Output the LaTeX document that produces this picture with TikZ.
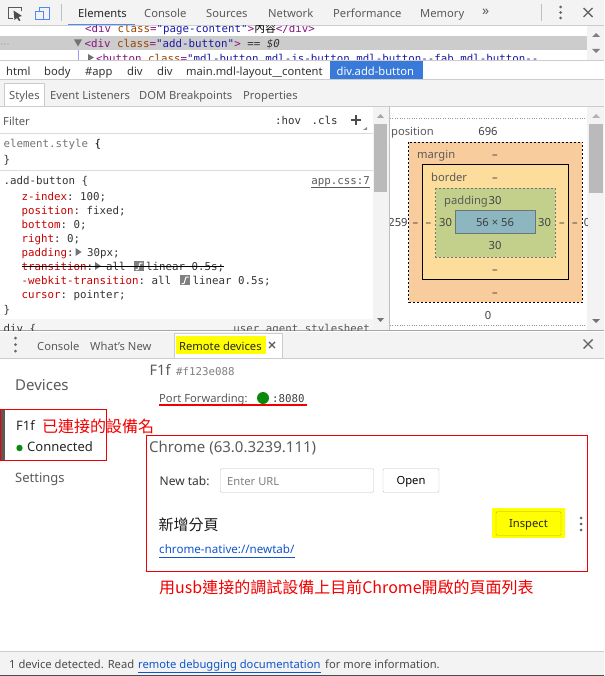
\documentclass[tikz,border=0pt]{standalone}
\usepackage{fontspec}
\setmainfont{Noto Sans}
\setmonofont{DejaVu Sans Mono}
\newfontfamily\cjk{Noto Sans CJK TC}
\usetikzlibrary{positioning,calc}
\definecolor{barbg}{HTML}{F3F3F3}
\definecolor{linegray}{HTML}{CCCCCC}
\definecolor{tabtext}{HTML}{5A5A5A}
\definecolor{tagcol}{HTML}{881280}
\definecolor{attrcol}{HTML}{994500}
\definecolor{valcol}{HTML}{1A1AA6}
\definecolor{propcol}{HTML}{C80000}
\definecolor{linkcol}{HTML}{1155CC}
\definecolor{okgreen}{HTML}{0A8A0A}
\definecolor{notered}{HTML}{F00000}
\definecolor{hiyellow}{HTML}{FFFF00}
\definecolor{crumbblue}{HTML}{3879D9}
\definecolor{tabblue}{HTML}{4C8BF5}
\definecolor{marginfill}{HTML}{F9CC9D}
\definecolor{borderfill}{HTML}{FDDD9B}
\definecolor{paddingfill}{HTML}{C3D08B}
\definecolor{contentfill}{HTML}{8CB6C0}
\tikzset{
  uitext/.style={anchor=west, inner sep=0pt, text height=12pt, text depth=3pt, font=\fontsize{11.2}{13}\selectfont, text=#1},
  uitext/.default=tabtext,
  midtext/.style={inner sep=0pt, text height=12pt, text depth=3pt, font=\fontsize{11.2}{13}\selectfont, text=#1},
  midtext/.default=black!75,
  codetext/.style={anchor=west, inner sep=0pt, text height=12pt, text depth=3pt, font=\fontsize{10.8}{13}\ttfamily, text=#1},
  codetext/.default=black!80,
  redbox/.style={draw=notered, line width=1pt},
  redtext/.style={anchor=west, inner sep=0pt, text=notered, font=\cjk\fontsize{16}{18}\selectfont},
  sepline/.style={draw=linegray, line width=1pt},
  tri/.style={fill=black!55, draw=none},
  menudot/.style={fill=black!60, draw=none},
  plainbtn/.style={draw=black!25, fill=white, rounded corners=1pt, inner sep=0pt, text height=11pt, text depth=3pt}
}
\begin{document}
\begin{tikzpicture}[x=1pt, y=-1pt, >=stealth]
  \useasboundingbox (0,0) rectangle (604,676);

  % Top toolbar
  \fill[barbg] (0,0) rectangle (604,25);
  \draw[sepline] (0,25.5) -- (604,25.5);
  \draw[black!65, line width=1pt] (13,18.5) -- (8.5,18.5) -- (8.5,7.5) -- (21,7.5) -- (21,11);
  \fill[black!70] (13.5,10.5) -- (22,16) -- (18.5,17) -- (20.5,20.5) -- (19,21) -- (17,18) -- (14.5,20) -- cycle;
  \draw[tabblue, line width=1pt] (35.5,12) rectangle (43.5,19.5);
  \draw[tabblue, line width=1pt] (39,12) -- (39,7.5) -- (49.5,7.5) -- (49.5,19.5) -- (43.5,19.5);
  \draw[black!25] (61.5,4) -- (61.5,21);
  \draw[black!25] (541,4) -- (541,21);
  \fill[tabblue] (68,24) rectangle (135,25.5);
  \node[uitext=black!85] (elementsTab) at (78,13) {Elements};
  \foreach \x/\nm/\lab in {144/consoleTab/Console, 206/sourcesTab/Sources, 268/networkTab/Network, 333/perfTab/Performance, 420/memoryTab/Memory}
    \node[uitext] (\nm) at (\x,13) {\lab};
  \node[uitext, font=\fontsize{14}{16}\selectfont] (moreTabs) at (482,11.5) {»};
  \foreach \y in {7,12.5,18} \fill[menudot] (560.5,\y) circle (1.5);
  \draw[black!60, line width=1.4pt] (583.5,8) -- (592.5,17) (592.5,8) -- (583.5,17);

  % DOM tree rows
  \fill[black!20] (0,36) rectangle (587,50);
  \fill[black!45] (2,44) circle (.6) (5,44) circle (.6) (8,44) circle (.6);
  \fill[tri] (74,39.5) -- (82,39.5) -- (78,46.5) -- cycle;
  \draw[blue!40] (78.5,50) -- (78.5,61);
  \fill[tri] (88,54) -- (94,57.5) -- (88,61) -- cycle;
  \begin{scope}
    \clip (0,26) rectangle (587,61);
    \node[codetext] (pageRow) at (85,28.5) {\textcolor{tagcol}{<div} \textcolor{attrcol}{class}\textcolor{tagcol}{=}\textcolor{valcol}{"page-content"}\textcolor{tagcol}{>}\textcolor{black}{\cjk 內容}\textcolor{tagcol}{</div>}};
    \node[codetext] (addRow) at (84.5,43.5) {\textcolor{tagcol}{<div} \textcolor{attrcol}{class}\textcolor{tagcol}{=}\textcolor{valcol}{"add-button"}\textcolor{tagcol}{>} == \textit{\$0}};
    \node[codetext] (buttonRow) at (96,58) {\textcolor{tagcol}{<button} \textcolor{attrcol}{class}\textcolor{tagcol}{=}\textcolor{valcol}{"mdl-button mdl-js-button mdl-button--fab mdl-button--}};
  \end{scope}
  \fill[barbg] (587,26) rectangle (604,61);
  \fill[black!50] (592,37) -- (600,37) -- (596,33) -- cycle;
  \fill[black!50] (592,49) -- (600,49) -- (596,53) -- cycle;

  % Breadcrumbs
  \draw[sepline] (0,61) -- (604,61);
  \fill[crumbblue] (330,61) rectangle (423,79);
  \foreach \x/\nm/\lab in {6/crumbA/html, 44/crumbB/body, 85/crumbC/\#app, 127/crumbD/div, 157/crumbE/div, 186/crumbF/main.mdl-layout\_\_content}
    \node[uitext=black!80] (\nm) at (\x,71) {\lab};
  \node[uitext=white, font=\fontsize{11.2}{13}\bfseries] (crumbG) at (336.5,71) {div.add-button};

  % Sidebar tabs
  \fill[barbg] (0,80) rectangle (604,106);
  \draw[sepline] (0,79.5) -- (604,79.5);
  \draw[linegray, fill=white] (4,106) -- (4,83) -- (44.5,83) -- (44.5,106);
  \node[uitext] (stylesTab) at (9,95) {Styles};
  \foreach \x/\nm/\lab in {50/listenersTab/Event Listeners, 139/breakTab/DOM Breakpoints, 243/propsTab/Properties}
    \node[uitext] (\nm) at (\x,95) {\lab};
  \draw[sepline] (0,106.5) -- (604,106.5);

  % Styles pane
  \draw[black!35, line width=1.2pt] (0,330.5) -- (604,330.5);
  \node[uitext] (filterBox) at (3,121) {Filter};
  \node[codetext] (hovBtn) at (275,120) {:hov};
  \node[codetext] (clsBtn) at (311.5,120) {.cls};
  \draw[black!70, line width=1.2pt] (351,120) -- (361,120) (356,115) -- (356,125);
  \fill[black!45] (367,127) -- (367,130) -- (363,130) -- cycle;
  \draw[linegray!70] (0,133.5) -- (373,133.5);
  \node[codetext=black!55] (elemRule) at (3.5,143) {element.style \textcolor{black}{\{}};
  \node[codetext] (elemEnd) at (3.5,159.5) {\}};
  \draw[linegray!70] (0,170.5) -- (373,170.5);
  \node[codetext] (addRule) at (3.5,180) {.add-button \{};
  \node[codetext=black!65, anchor=east] (cssLink) at (370,180) {app.css:7};
  \draw[black!65, yshift=1pt] (cssLink.south west) -- (cssLink.south east);
  \foreach \y/\nm/\prop/\val in {196/declA/z-index/100;, 210/declB/position/fixed;, 224/declC/bottom/0;, 238/declD/right/0;, 294/declE/cursor/pointer;}
    \node[codetext] (\nm) at (21.5,\y) {\textcolor{propcol}{\prop}: \val};
  \node[codetext] (declF) at (21.5,252) {\textcolor{propcol}{padding}:};
  \fill[tri] (75.5,248) -- (81.5,252) -- (75.5,256) -- cycle;
  \node[codetext] (declFv) at (87,252) {30px;};
  % struck out declaration
  \node[codetext] (declG) at (21.5,266) {\textcolor{propcol}{transition}:};
  \fill[tri] (95,262) -- (101,266) -- (95,270) -- cycle;
  \node[codetext] (declGa) at (106,266) {all};
  \fill[black!50] (134,261) rectangle (144,271);
  \draw[white, line width=1pt] (135.5,269.5) -- (138,269.5) -- (140,263) -- (142.5,263);
  \node[codetext] (declGb) at (146,266) {linear 0.5s;};
  \draw[black, line width=.8pt] (declG.west) -- (declGb.east);
  \node[codetext] (declH) at (21.5,280) {\textcolor{propcol}{-webkit-transition}: all};
  \fill[black!50] (180,275) rectangle (190,285);
  \draw[white, line width=1pt] (181.5,283.5) -- (184,283.5) -- (186,277) -- (188.5,277);
  \node[codetext] (declHb) at (192.5,280) {linear 0.5s;};
  \node[codetext] (addEnd) at (3.5,308.5) {\}};
  \fill[black!4] (0,318.5) rectangle (373,330);
  \begin{scope}
    \clip (0,318.5) rectangle (373,330);
    \node[codetext] (divRule) at (3.5,328) {div \{};
    \node[codetext=black!65, anchor=east] (uaLabel) at (370,328) {user agent stylesheet};
  \end{scope}
  % left scrollbar
  \fill[barbg] (373,107) rectangle (388.5,330);
  \fill[black!27] (374,124) rectangle (387,192);
  \fill[black!35] (377,118) -- (384,118) -- (380.5,114) -- cycle;
  \fill[black!55] (377,318) -- (384,318) -- (380.5,322) -- cycle;
  \draw[black!25] (389,107) -- (389,330);

  % Box model
  \draw[black!40, dotted] (390,118) -- (587,118);
  \draw[black!40, dotted] (390,325) -- (587,325);
  \fill[barbg] (587,107) rectangle (604,330);
  \fill[black!27] (589,124) rectangle (603,193);
  \fill[black!30] (592,118) -- (600,118) -- (596,114) -- cycle;
  \fill[black!55] (592,319) -- (600,319) -- (596,323) -- cycle;
  \draw[black, dash pattern=on 2pt off 2pt, fill=marginfill] (408.5,142) rectangle (582,302);
  \draw[black, fill=borderfill] (422,164) rectangle (568,279);
  \draw[black!55, dash pattern=on 2pt off 2pt, fill=paddingfill] (435.5,188) rectangle (555,257);
  \draw[black!55, fill=contentfill] (455.5,210.5) rectangle (535,233.5);
  \node[uitext] (posLabel) at (391,131) {position};
  \begin{scope}
    \clip (390,200) rectangle (587,240);
    \node[midtext] (boxLeft) at (398,222) {259};
    \node[midtext] (boxRight) at (587,222) {0};
  \end{scope}
  \node[midtext] (boxTop) at (488,131) {696};
  \node[midtext] (boxBot) at (488,315) {0};
  \node[uitext] (marginLab) at (417,154) {margin};
  \node[uitext] (borderLab) at (431,177) {border};
  \node[uitext] (paddingLab) at (444,200) {padding};
  \node[midtext] (padTop) at (495,200) {30};
  \node[midtext] (padBot) at (495,245) {30};
  \node[midtext] (padLeft) at (445.5,222) {30};
  \node[midtext] (padRight) at (544.5,222) {30};
  \node[midtext] (contentLab) at (495,222) {56 × 56};
  \foreach \x/\y/\nm in {495/154/dashA, 495/177/dashB, 495/269/dashC, 495/292/dashD, 415.5/222/dashE, 428.5/222/dashF, 562/222/dashG, 575/222/dashH}
    \node[midtext] (\nm) at (\x,\y) {–};

  % Drawer tabs
  \fill[barbg] (0,332) rectangle (604,358);
  \draw[sepline] (0,358.5) -- (604,358.5);
  \foreach \y in {338,344.5,351} \fill[menudot] (15.5,\y) circle (1.5);
  \draw[linegray, fill=white] (174,358) -- (174,333.5) -- (282.5,333.5) -- (282.5,358);
  \fill[hiyellow] (176,336) rectangle (266,354);
  \node[uitext] (drawerA) at (37,346) {Console};
  \node[uitext] (drawerB) at (90,346) {What's New};
  \node[uitext=black!85] (drawerC) at (179,346) {Remote devices};
  \draw[black!65, line width=1.1pt] (269,342) -- (275,348) (275,342) -- (269,348);
  \draw[black!60, line width=1.4pt] (583.5,339.5) -- (592.5,348.5) (592.5,339.5) -- (583.5,348.5);

  % Device header
  \node[uitext, font=\fontsize{14.5}{16}\selectfont] (devName) at (149.5,371) {F1f};
  \node[codetext=black!50] (devId) at (176,371) {\#f123e088};
  \node[uitext, font=\fontsize{15}{17}\selectfont] (devicesHead) at (15,385.5) {Devices};
  \node[uitext] (portLabel) at (159,398) {Port Forwarding:};
  \fill[okgreen] (263,398) circle (6);
  \node[codetext=black!75] (portNum) at (272,398) {:8080};
  \draw[notered, line width=1.2pt] (159,405) -- (307,405);

  % Sidebar
  \fill[black!65] (1,409) rectangle (5,461);
  \draw[redbox] (.5,409) rectangle (106,460);
  \node[uitext=black!85, font=\fontsize{13}{15}\selectfont] (sideDev) at (16,426) {F1f};
  \node[redtext] (sideNote) at (42,426) {已連接的設備名};
  \fill[okgreen] (19.5,448) circle (3.2);
  \node[uitext=black!85, font=\fontsize{13}{15}\selectfont] (sideConn) at (27,447) {Connected};
  \node[uitext, font=\fontsize{13}{15}\selectfont] (sideSet) at (15,478) {Settings};

  % Chrome card
  \draw[redbox] (146.5,435) rectangle (587,571.5);
  \node[uitext, font=\fontsize{15}{17}\selectfont] (chromeHead) at (149,448) {Chrome (63.0.3239.111)};
  \node[uitext=black!80, font=\fontsize{12}{14}\selectfont] (newTabLab) at (159.5,481) {New tab:};
  \node[plainbtn, minimum width=153pt, minimum height=23.5pt] (urlBox) at (297,480.5) {};
  \node[uitext=black!50] (urlHint) at (227,481) {Enter URL};
  \node[plainbtn, minimum width=56pt, minimum height=23.5pt, font=\fontsize{11.2}{13}\selectfont] (openBtn) at (411,480.5) {Open};
  \node[uitext=black!90, font=\cjk\fontsize{15}{17}\selectfont] (pageTitle) at (158.5,526) {新增分頁};
  \fill[hiyellow] (492,507.5) rectangle (564.5,538);
  \node[plainbtn, draw=black!30!hiyellow, fill=hiyellow, minimum width=65pt, minimum height=23.5pt, font=\fontsize{11.2}{13}\selectfont, text=black!85] (inspectBtn) at (528.5,523.5) {Inspect};
  \foreach \y in {518,524,530} \fill[menudot] (581,\y) circle (1.5);
  \node[uitext=linkcol, font=\fontsize{11.6}{13}\selectfont] (pageLink) at (159,549) {chrome-native://newtab/};
  \draw[linkcol, yshift=1pt] (pageLink.south west) -- (pageLink.south east);
  \node[redtext] (cardNote) at (159,587) {用usb連接的調試設備上目前Chrome開啟的頁面列表};

  % Footer
  \fill[barbg] (0,651) rectangle (604,676);
  \draw[sepline] (0,651) -- (604,651);
  \node[uitext=black!70] (footA) at (9,664) {1 device detected. Read};
  \node[uitext=linkcol] (footB) at (138,664) {remote debugging documentation};
  \draw[linkcol, yshift=1pt] (footB.south west) -- (footB.south east);
  \node[uitext=black!70] (footC) at (325,664) {for more information.};
  \draw[black!70] (0,675.5) -- (604,675.5);
\end{tikzpicture}
\end{document}
